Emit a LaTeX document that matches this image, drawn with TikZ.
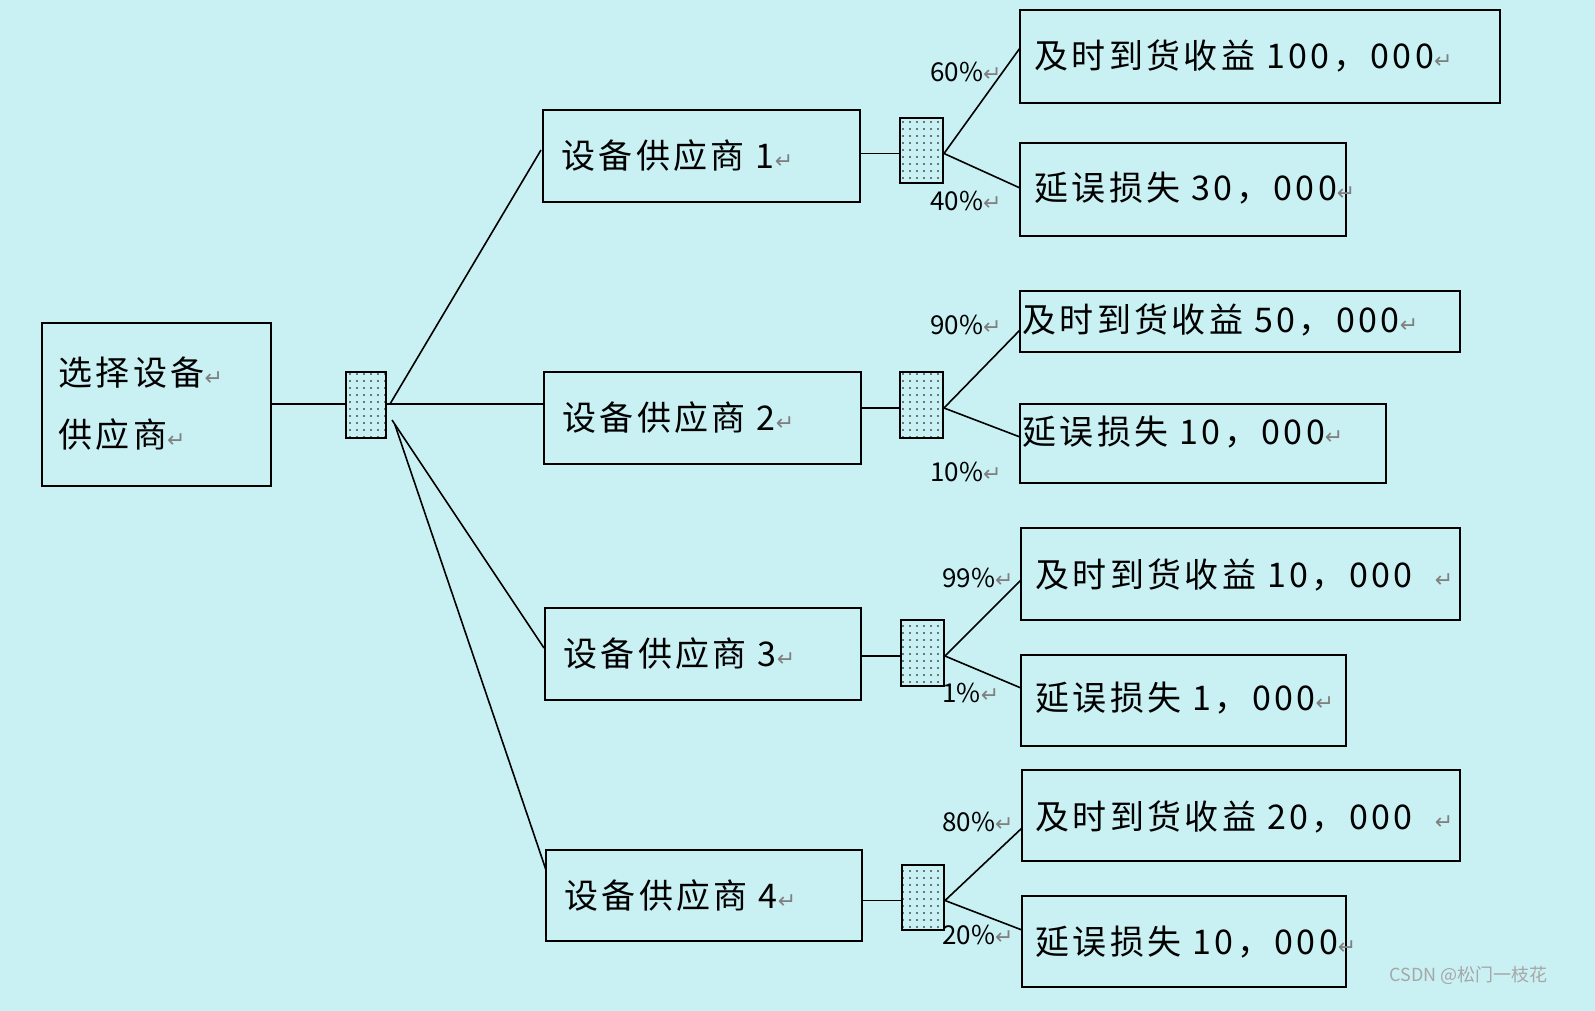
\documentclass[tikz,border=0pt]{standalone}
\usepackage{fontspec}
\setmainfont{Noto Sans CJK SC}
\newfontfamily\djv{DejaVu Sans}
\newfontfamily\spaced[LetterSpace=10]{Noto Sans CJK SC}
\usetikzlibrary{patterns.meta}
\definecolor{bg}{HTML}{C9F1F4}
\newcommand{\rt}{{\djv\color{gray}\fontsize{11pt}{11pt}\selectfont ↵}}
\begin{document}
\begin{tikzpicture}[x=0.5pt,y=-0.5pt,
 box/.style={draw,line width=0.9pt},
 chance/.style={draw,line width=0.9pt,pattern={Dots[distance=3.5pt,radius=0.45pt]}},
 txt/.style={anchor=west,font=\spaced\fontsize{17pt}{21pt}\selectfont,inner sep=0},
 pct/.style={anchor=west,font=\fontsize{13pt}{13pt}\selectfont,inner sep=0},
 ln/.style={line width=0.8pt}]
\fill[bg] (0,0) rectangle (1595,1011);
\useasboundingbox (0,0) rectangle (1595,1011);
% root
\draw[box] (42,323) rectangle (271,486);
\node[txt,align=left,font=\spaced\fontsize{17pt}{31pt}\selectfont] (root) at (58,404) {选择设备\rt\\供应商\rt};
\draw[chance] (346,372) rectangle (386,438);
\coordinate (rr) at (271,404); \coordinate (c0l) at (346,404);
\draw[ln] (rr) -- (c0l);
% suppliers
\foreach \i/\xa/\ya/\xb/\yb in {1/543/110/860/202,2/544/372/861/464,3/545/608/861/700,4/546/850/862/941}{
 \draw[box] (\xa,\ya) rectangle (\xb,\yb);
 \node[txt] (s\i) at (\xa+18,{(\ya+\yb)/2}) {设备供应商 \i\rt};
}
\coordinate (a1) at (390,404); \coordinate (b1) at (541,150);
\coordinate (a2) at (386,404); \coordinate (b2) at (544,404);
\coordinate (a3) at (392,420); \coordinate (b3) at (544,648);
\coordinate (a4) at (395,425); \coordinate (b4) at (546,870);
\foreach \i in {1,...,4}{\draw[ln] (a\i) -- (b\i);}
% chance nodes
\foreach \i/\xa/\ya/\xb/\yb/\sx in {1/900/118/943/183/860,2/900/372/943/438/861,3/901/620/944/686/861,4/902/865/944/930/862}{
 \draw[chance] (\xa,\ya) rectangle (\xb,\yb);
 \coordinate (sr\i) at (\sx,{(\ya+\yb)/2+3});
 \coordinate (cl\i) at (\xa,{(\ya+\yb)/2+3});
 \coordinate (cr\i) at (\xb+1,{(\ya+\yb)/2+3});
 \draw[ln] (sr\i) -- (cl\i);
}
% outcomes
\foreach \xa/\ya/\xb/\yb in {
 1020/10/1500/103, 1020/143/1346/236, 1020/291/1460/352, 1020/404/1386/483,
 1021/528/1460/620, 1021/655/1346/746, 1022/770/1460/861, 1022/896/1346/987}{
 \draw[box] (\xa,\ya) rectangle (\xb,\yb);
}
\node[txt] (o1a) at (1034,56) {及时到货收益 100，000\rt};
\node[txt] (o1b) at (1034,188) {延误损失 30，000\rt};
\node[txt] (o2a) at (1022,320) {及时到货收益 50，000\rt};
\node[txt] (o2b) at (1022,432) {延误损失 10，000\rt};
\node[txt] (o3a) at (1035,575) {及时到货收益 10，000 \ \rt};
\node[txt] (o3b) at (1035,698) {延误损失 1，000\rt};
\node[txt] (o4a) at (1035,817) {及时到货收益 20，000 \ \rt};
\node[txt] (o4b) at (1035,942) {延误损失 10，000\rt};
\coordinate (e1a) at (1020,48); \coordinate (e1b) at (1020,188);
\coordinate (e2a) at (1020,330); \coordinate (e2b) at (1020,437);
\coordinate (e3a) at (1021,580); \coordinate (e3b) at (1021,688);
\coordinate (e4a) at (1022,828); \coordinate (e4b) at (1022,930);
\foreach \i in {1,...,4}{\draw[ln] (cr\i) -- (e\i a); \draw[ln] (cr\i) -- (e\i b);}
% percentages
\node[pct] (p1) at (930,72) {60\%\rt};
\node[pct] (p2) at (930,201) {40\%\rt};
\node[pct] (p3) at (930,325) {90\%\rt};
\node[pct] (p4) at (930,472) {10\%\rt};
\node[pct] (p5) at (942,578) {99\%\rt};
\node[pct] (p6) at (942,693) {1\%\rt};
\node[pct] (p7) at (942,822) {80\%\rt};
\node[pct] (p8) at (942,935) {20\%\rt};
\node[anchor=east,font=\fontsize{9pt}{9pt}\selectfont,text=gray!70] (wm) at (1555,975) {CSDN @松门一枝花};
\end{tikzpicture}
\end{document}
